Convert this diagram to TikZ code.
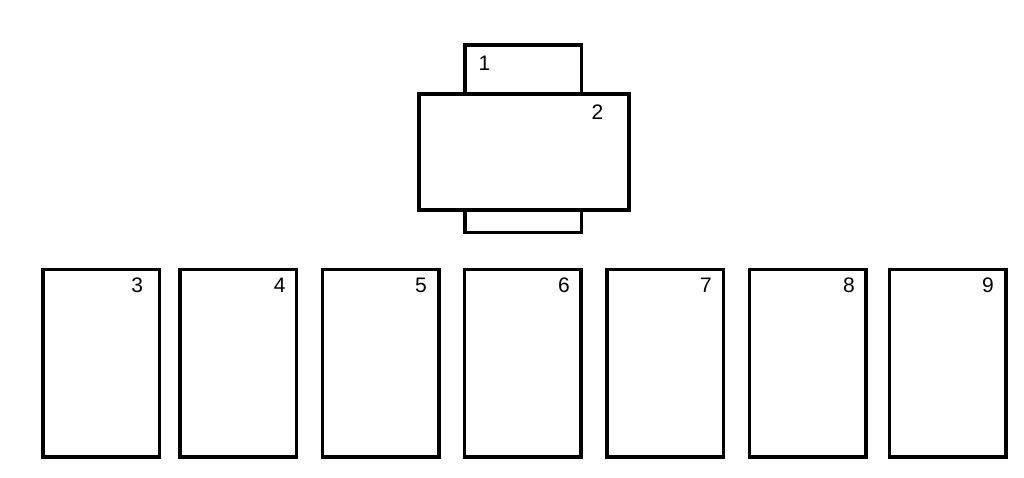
\documentclass[tikz,border=0pt]{standalone}
\usepackage{fontspec}
\setmainfont{Liberation Sans}
\begin{document}
\begin{tikzpicture}[x=1pt,y=-1pt,
  card/.style={draw=black,fill=white,line width=3.5pt,rectangle,inner sep=0pt,outer sep=0pt,
    minimum width=116.5pt,minimum height=187.5pt,anchor=north west},
  wide/.style={draw=black,fill=white,line width=3.5pt,rectangle,inner sep=0pt,outer sep=0pt,
    minimum width=210pt,minimum height=116pt,anchor=north west},
  lbl/.style={inner sep=0pt,outer sep=0pt,font=\fontsize{21}{22}\selectfont,anchor=center}]
\useasboundingbox (0,0) rectangle (1024,477);
\node[card] (c1) at (465,45) {};
\node[wide] (c2) at (419,94) {};
\node[card] (c3) at (43,269.5) {};
\node[card] (c4) at (180,269.5) {};
\node[card] (c5) at (322.5,269.5) {};
\node[card] (c6) at (464.5,269.5) {};
\node[card] (c7) at (607,269.5) {};
\node[card] (c8) at (749.5,269.5) {};
\node[card] (c9) at (889.5,269.5) {};
\node[lbl] (l1) at (484.5,62.8) {1};
\node[lbl] (l2) at (597.5,112.5) {2};
\node[lbl] (l3) at (137.3,285) {3};
\node[lbl] (l4) at (279.7,285) {4};
\node[lbl] (l5) at (421,285) {5};
\node[lbl] (l6) at (564,285) {6};
\node[lbl] (l7) at (706,285) {7};
\node[lbl] (l8) at (849,285) {8};
\node[lbl] (l9) at (988,285) {9};
\end{tikzpicture}
\end{document}
